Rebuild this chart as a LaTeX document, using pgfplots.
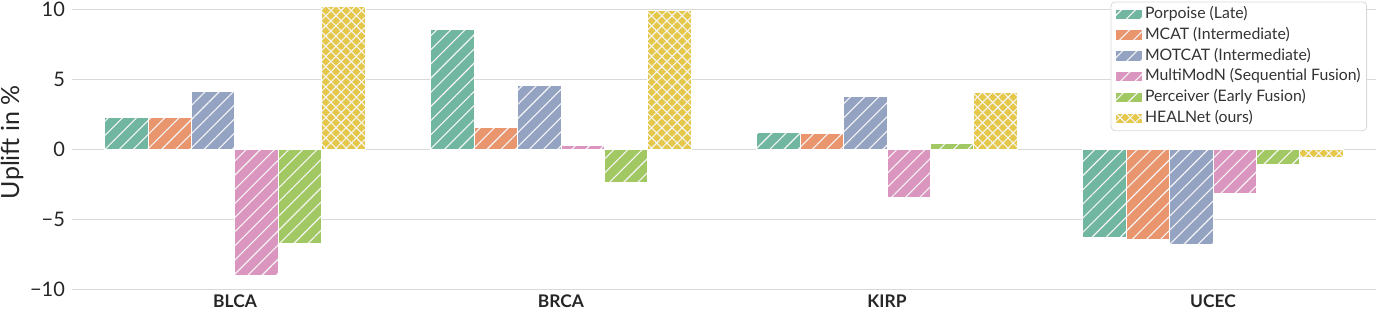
\documentclass[border=0pt]{standalone}
\usepackage{fontspec}
\setmainfont{Lato}
\usepackage{pgfplots}
\pgfplotsset{compat=1.18}
\usetikzlibrary{patterns.meta}
\definecolor{cA}{HTML}{71B6A1}
\definecolor{cB}{HTML}{E9966F}
\definecolor{cC}{HTML}{95A3C3}
\definecolor{cD}{HTML}{DB96C0}
\definecolor{cE}{HTML}{A2C864}
\definecolor{cF}{HTML}{E5C849}
\tikzset{
  hatchS/.style={postaction={pattern={Lines[angle=45,distance=5pt,line width=0.55pt]},pattern color=white!92!gray}},
  hatchX/.style={postaction={pattern={Lines[angle=45,distance=3.6pt,line width=0.55pt]},pattern color=white!92!gray},
                 postaction={pattern={Lines[angle=-45,distance=3.6pt,line width=0.55pt]},pattern color=white!92!gray}},
}
\begin{document}
\begin{tikzpicture}
\begin{axis}[name=ax, scale only axis, width=652pt, height=145.3pt,
  xmin=-0.5, xmax=3.5, ymin=-10.1, ymax=10.7,
  ybar=0pt, bar width=0.13333,
  xtick={0,1,2,3}, xticklabels={BLCA,BRCA,KIRP,UCEC},
  xticklabel style={font=\fontsize{8.7}{10}\selectfont\bfseries, text=black!85, yshift=1.6pt},
  ytick={-10,-5,0,5,10}, yticklabels={−10,−5,0,5,10},
  yticklabel style={font=\fontsize{10}{12}\selectfont, text=black!85},
  ymajorgrids, grid style={color=black!15, line width=0.6pt},
  axis line style={draw=none}, major tick length=0pt,
  ylabel={Uplift in \%}, ylabel style={font=\fontsize{12.5}{14}\selectfont, text=black!85,
    at={(axis description cs:0,0.511)}, yshift=30pt, anchor=center},
  legend style={at={(0.9931,0.9948)}, anchor=north east, draw=black!15, rounded corners=2pt,
    font=\fontsize{7.9}{9}\selectfont, text=black!80, row sep=1pt, inner xsep=2pt, inner ysep=1.5pt,
    nodes={inner ysep=1pt, inner xsep=1pt, text height=5.8pt, text depth=1.6pt}},
  legend cell align=left,
  legend image code/.code={\fill[#1, sharp corners] (0pt,-2.6pt) rectangle (13.5pt,2.6pt);},
  every axis plot/.append style={draw=white, line width=0.5pt},
]
\addplot[fill=cA, hatchS] coordinates {(0,2.29) (1,8.59) (2,1.24) (3,-6.28)};
\addplot[fill=cB, hatchS] coordinates {(0,2.29) (1,1.55) (2,1.15) (3,-6.42)};
\addplot[fill=cC, hatchS] coordinates {(0,4.13) (1,4.61) (2,3.82) (3,-6.78)};
\addplot[fill=cD, hatchS] coordinates {(0,-9.02) (1,0.31) (2,-3.41) (3,-3.13)};
\addplot[fill=cE, hatchS] coordinates {(0,-6.73) (1,-2.34) (2,0.41) (3,-1.05)};
\addplot[fill=cF, hatchX] coordinates {(0,10.21) (1,9.98) (2,4.08) (3,-0.55)};
\legend{Porpoise (Late),MCAT (Intermediate),MOTCAT (Intermediate),MultiModN (Sequential Fusion),Perceiver (Early Fusion),HEALNet (ours)}
\end{axis}
\pgfresetboundingbox
\path[use as bounding box] ([xshift=-36pt,yshift=-10.2pt]ax.south west) rectangle (ax.north east);
\end{tikzpicture}
\end{document}
